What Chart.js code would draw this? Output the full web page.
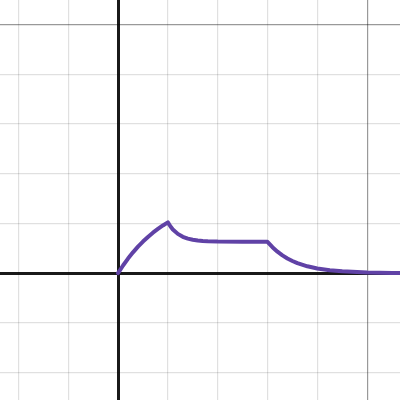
<!DOCTYPE html>
<html>
<head>
<meta charset="utf-8">
<script src="https://cdn.jsdelivr.net/npm/chart.js@4"></script>
<style>
  body { margin: 0; background: #fff; }
  canvas { display: block; }
</style>
</head>
<body>
<canvas id="grafico" width="400" height="400"></canvas>
<script>
// valores
var xValores = [0, 0.1, 0.2, 0.3, 0.4, 0.5, 0.6, 0.7, 0.8, 0.9, 1,
    1.05, 1.1, 1.2, 1.3, 1.4, 1.5, 1.6, 1.7, 1.8, 2, 2.5, 3,
    3.1, 3.2, 3.3, 3.4, 3.5, 3.6, 3.8, 4, 4.25, 4.5, 5, 5.5, 5.7];
var yValores = [0, 0.154, 0.293, 0.418, 0.532, 0.635, 0.728, 0.813, 0.888, 0.958, 1.02,
    0.942, 0.879, 0.789, 0.731, 0.694, 0.671, 0.656, 0.647, 0.641, 0.634, 0.63, 0.63,
    0.521, 0.431, 0.356, 0.294, 0.244, 0.201, 0.137, 0.094, 0.059, 0.036, 0.014, 0.005, 0.003];

var limitesX = [-2.37, 5.66];
var limitesY = [-2.55, 5.49];

function PegarPontos() {
    var pontos = [];
    var indice = 0;
    while (indice < xValores.length) {
        pontos.push({ x: xValores[indice], y: yValores[indice] });
        indice++;
    }
    return pontos;
}

function CorGrade(ctx) {
    var v = ctx.tick.value;
    if (v === 0) return 'rgba(0,0,0,0.9)';
    if (v % 5 === 0) return 'rgba(0,0,0,0.4)';
    return 'rgba(0,0,0,0.12)';
}

function LarguraGrade(ctx) {
    return ctx.tick.value === 0 ? 3 : 1.2;
}

function Eixo(min, max, horizontal) {
    return {
        type: 'linear',
        min: min,
        max: max,
        border: { display: false },
        ticks: { display: false, stepSize: 1, includeBounds: false },
        grid: { drawTicks: false, color: CorGrade, lineWidth: LarguraGrade },
        // escala sem tamanho, pra area do grafico ocupar o canvas todo
        afterFit: function (escala) {
            if (horizontal) escala.height = 0;
            else escala.width = 0;
        }
    };
}

new Chart(document.getElementById('grafico'), {
    type: 'scatter',
    data: {
        datasets: [{
            data: PegarPontos(),
            showLine: true,
            borderColor: '#6042a6',
            borderWidth: 4,
            borderCapStyle: 'round',
            borderJoinStyle: 'round',
            pointRadius: 0,
            fill: false
        }]
    },
    options: {
        responsive: false,
        animation: false,
        layout: { padding: 0 },
        plugins: { legend: { display: false }, tooltip: { enabled: false } },
        scales: {
            x: Eixo(limitesX[0], limitesX[1], true),
            y: Eixo(limitesY[0], limitesY[1], false)
        }
    }
});
</script>
</body>
</html>
